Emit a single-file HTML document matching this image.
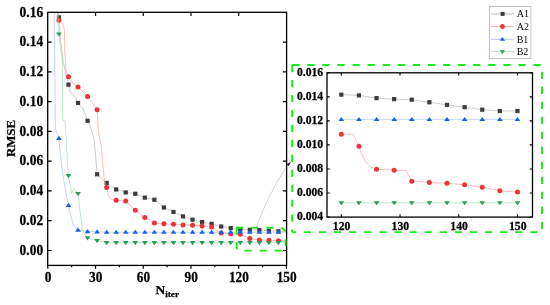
<!DOCTYPE html>
<html><head><meta charset="utf-8"><title>RMSE vs Niter</title>
<style>html,body{margin:0;padding:0;background:#fff;}body{width:550px;height:305px;overflow:hidden;}svg{display:block;}</style></head>
<body>
<svg width="550" height="305" viewBox="0 0 550 305">
<rect width="550" height="305" fill="#fff"/>
<defs><clipPath id="mc"><rect x="47.7" y="12.3" width="238.9" height="253.1"/></clipPath><clipPath id="ic"><rect x="327" y="72.8" width="205.5" height="144.3"/></clipPath></defs>
<g clip-path="url(#mc)">
<polyline points="58,12.3 58.93,17.32 60.5,40 63.3,62 66,75 68.48,84.63 70.3,92 75.6,97.5 78.02,102.94 82.5,108 85.5,115 87.57,120.81 91.6,130 94.2,140.5 96.4,165 97.11,174.26 106.66,183.05 116.2,189.45 125.74,192.43 135.29,193.77 144.83,197.64 154.38,199.73 163.92,207.47 173.47,211.93 183.01,216.4 192.55,219.68 202.1,222.06 211.64,223.85 221.19,226.53 230.73,228.16 240.27,229.65 249.82,229.8 259.36,230.1 268.91,230.7 278.45,231.29 286.4,231.44" fill="none" stroke="#b4b4b4" stroke-width="0.7" stroke-linejoin="round" />
<rect x="56.83" y="15.22" width="4.2" height="4.2" fill="#3c3c3c"/>
<rect x="66.38" y="82.53" width="4.2" height="4.2" fill="#3c3c3c"/>
<rect x="75.92" y="100.84" width="4.2" height="4.2" fill="#3c3c3c"/>
<rect x="85.47" y="118.71" width="4.2" height="4.2" fill="#3c3c3c"/>
<rect x="95.01" y="172.16" width="4.2" height="4.2" fill="#3c3c3c"/>
<rect x="104.56" y="180.95" width="4.2" height="4.2" fill="#3c3c3c"/>
<rect x="114.1" y="187.35" width="4.2" height="4.2" fill="#3c3c3c"/>
<rect x="123.64" y="190.33" width="4.2" height="4.2" fill="#3c3c3c"/>
<rect x="133.19" y="191.67" width="4.2" height="4.2" fill="#3c3c3c"/>
<rect x="142.73" y="195.54" width="4.2" height="4.2" fill="#3c3c3c"/>
<rect x="152.28" y="197.63" width="4.2" height="4.2" fill="#3c3c3c"/>
<rect x="161.82" y="205.37" width="4.2" height="4.2" fill="#3c3c3c"/>
<rect x="171.37" y="209.83" width="4.2" height="4.2" fill="#3c3c3c"/>
<rect x="180.91" y="214.3" width="4.2" height="4.2" fill="#3c3c3c"/>
<rect x="190.45" y="217.58" width="4.2" height="4.2" fill="#3c3c3c"/>
<rect x="200" y="219.96" width="4.2" height="4.2" fill="#3c3c3c"/>
<rect x="209.54" y="221.75" width="4.2" height="4.2" fill="#3c3c3c"/>
<rect x="219.09" y="224.43" width="4.2" height="4.2" fill="#3c3c3c"/>
<rect x="228.63" y="226.06" width="4.2" height="4.2" fill="#3c3c3c"/>
<rect x="238.17" y="227.55" width="4.2" height="4.2" fill="#3c3c3c"/>
<rect x="247.72" y="227.7" width="4.2" height="4.2" fill="#3c3c3c"/>
<rect x="257.26" y="228" width="4.2" height="4.2" fill="#3c3c3c"/>
<rect x="266.81" y="228.6" width="4.2" height="4.2" fill="#3c3c3c"/>
<rect x="276.35" y="229.19" width="4.2" height="4.2" fill="#3c3c3c"/>
<polyline points="57.2,12.3 58.93,20.15 62.5,23.5 64.4,30 64.8,50 65.6,66 66.6,73 68.48,76.73 72,82.5 78.02,87.01 87.57,96.54 97.11,109.64 98.9,135 101.4,147 103.3,170 104.6,181 106.66,187.52 108.4,195.8 111.5,199.3 116.2,200.32 125.74,200.92 135.29,210.15 144.83,217.44 154.38,222.95 163.92,223.7 173.47,224.29 183.01,224.89 192.55,225.19 202.1,225.93 211.64,227.12 221.19,232.93 230.73,233.82 240.27,234.27 249.82,238.59 259.36,240.08 268.91,240.37 278.45,240.82 286.4,241.42" fill="none" stroke="#f6a2a2" stroke-width="0.7" stroke-linejoin="round" />
<circle cx="58.93" cy="20.15" r="2.5" fill="#ee3338"/>
<circle cx="68.48" cy="76.73" r="2.5" fill="#ee3338"/>
<circle cx="78.02" cy="87.01" r="2.5" fill="#ee3338"/>
<circle cx="87.57" cy="96.54" r="2.5" fill="#ee3338"/>
<circle cx="97.11" cy="109.64" r="2.5" fill="#ee3338"/>
<circle cx="106.66" cy="187.52" r="2.5" fill="#ee3338"/>
<circle cx="116.2" cy="200.32" r="2.5" fill="#ee3338"/>
<circle cx="125.74" cy="200.92" r="2.5" fill="#ee3338"/>
<circle cx="135.29" cy="210.15" r="2.5" fill="#ee3338"/>
<circle cx="144.83" cy="217.44" r="2.5" fill="#ee3338"/>
<circle cx="154.38" cy="222.95" r="2.5" fill="#ee3338"/>
<circle cx="163.92" cy="223.7" r="2.5" fill="#ee3338"/>
<circle cx="173.47" cy="224.29" r="2.5" fill="#ee3338"/>
<circle cx="183.01" cy="224.89" r="2.5" fill="#ee3338"/>
<circle cx="192.55" cy="225.19" r="2.5" fill="#ee3338"/>
<circle cx="202.1" cy="225.93" r="2.5" fill="#ee3338"/>
<circle cx="211.64" cy="227.12" r="2.5" fill="#ee3338"/>
<circle cx="221.19" cy="232.93" r="2.5" fill="#ee3338"/>
<circle cx="230.73" cy="233.82" r="2.5" fill="#ee3338"/>
<circle cx="240.27" cy="234.27" r="2.5" fill="#ee3338"/>
<circle cx="249.82" cy="238.59" r="2.5" fill="#ee3338"/>
<circle cx="259.36" cy="240.08" r="2.5" fill="#ee3338"/>
<circle cx="268.91" cy="240.37" r="2.5" fill="#ee3338"/>
<circle cx="278.45" cy="240.82" r="2.5" fill="#ee3338"/>
<polyline points="54.2,12.3 55.4,129.3 58.93,138.38 59.6,146 61.5,165 64.5,185 68.48,205.38 70.2,214 72.6,222.5 75,227.8 78.02,229.95 87.57,231.44 97.11,231.89 106.66,232.19 116.2,232.19 125.74,232.19 135.29,232.19 144.83,232.19 154.38,232.19 163.92,232.19 173.47,232.19 183.01,232.19 192.55,232.19 202.1,232.19 211.64,232.19 221.19,232.19 230.73,232.19 240.27,232.19 249.82,232.19 259.36,232.19 268.91,232.19 278.45,232.19 286.4,232.19" fill="none" stroke="#a8c6f4" stroke-width="0.7" stroke-linejoin="round" />
<polygon points="58.93,135.85 56.07,140.06 61.8,140.06" fill="#1a5fe0"/>
<polygon points="68.48,202.86 65.62,207.07 71.34,207.07" fill="#1a5fe0"/>
<polygon points="78.02,227.42 75.16,231.64 80.89,231.64" fill="#1a5fe0"/>
<polygon points="87.57,228.91 84.71,233.13 90.43,233.13" fill="#1a5fe0"/>
<polygon points="97.11,229.36 94.25,233.57 99.97,233.57" fill="#1a5fe0"/>
<polygon points="106.66,229.66 103.79,233.87 109.52,233.87" fill="#1a5fe0"/>
<polygon points="116.2,229.66 113.34,233.87 119.06,233.87" fill="#1a5fe0"/>
<polygon points="125.74,229.66 122.88,233.87 128.61,233.87" fill="#1a5fe0"/>
<polygon points="135.29,229.66 132.43,233.87 138.15,233.87" fill="#1a5fe0"/>
<polygon points="144.83,229.66 141.97,233.87 147.69,233.87" fill="#1a5fe0"/>
<polygon points="154.38,229.66 151.51,233.87 157.24,233.87" fill="#1a5fe0"/>
<polygon points="163.92,229.66 161.06,233.87 166.78,233.87" fill="#1a5fe0"/>
<polygon points="173.47,229.66 170.6,233.87 176.33,233.87" fill="#1a5fe0"/>
<polygon points="183.01,229.66 180.15,233.87 185.87,233.87" fill="#1a5fe0"/>
<polygon points="192.55,229.66 189.69,233.87 195.42,233.87" fill="#1a5fe0"/>
<polygon points="202.1,229.66 199.24,233.87 204.96,233.87" fill="#1a5fe0"/>
<polygon points="211.64,229.66 208.78,233.87 214.5,233.87" fill="#1a5fe0"/>
<polygon points="221.19,229.66 218.32,233.87 224.05,233.87" fill="#1a5fe0"/>
<polygon points="230.73,229.66 227.87,233.87 233.59,233.87" fill="#1a5fe0"/>
<polygon points="240.27,229.66 237.41,233.87 243.14,233.87" fill="#1a5fe0"/>
<polygon points="249.82,229.66 246.96,233.87 252.68,233.87" fill="#1a5fe0"/>
<polygon points="259.36,229.66 256.5,233.87 262.23,233.87" fill="#1a5fe0"/>
<polygon points="268.91,229.66 266.05,233.87 271.77,233.87" fill="#1a5fe0"/>
<polygon points="278.45,229.66 275.59,233.87 281.31,233.87" fill="#1a5fe0"/>
<polyline points="57.6,12.3 58.93,34.15 60.3,45 62.3,60 62.8,120 65.1,121.5 66.2,140 67.8,168 68.48,175.75 71.6,193.4 73.3,189.8 75.2,189.9 78.02,193.77 80.5,215 82.6,231 87.57,237.99 97.11,240.67 106.66,242.61 116.2,242.61 125.74,242.61 135.29,242.61 144.83,242.61 154.38,242.61 163.92,242.61 173.47,242.61 183.01,242.61 192.55,242.61 202.1,242.61 211.64,242.61 221.19,242.61 230.73,242.61 240.27,242.61 249.82,242.61 259.36,242.61 268.91,242.61 278.45,242.61 286.4,242.61" fill="none" stroke="#a2dcb8" stroke-width="0.7" stroke-linejoin="round" />
<polygon points="58.93,36.68 56.07,32.46 61.8,32.46" fill="#2e9a57"/>
<polygon points="68.48,178.28 65.62,174.07 71.34,174.07" fill="#2e9a57"/>
<polygon points="78.02,196.3 75.16,192.08 80.89,192.08" fill="#2e9a57"/>
<polygon points="87.57,240.52 84.71,236.31 90.43,236.31" fill="#2e9a57"/>
<polygon points="97.11,243.2 94.25,238.99 99.97,238.99" fill="#2e9a57"/>
<polygon points="106.66,245.14 103.79,240.92 109.52,240.92" fill="#2e9a57"/>
<polygon points="116.2,245.14 113.34,240.92 119.06,240.92" fill="#2e9a57"/>
<polygon points="125.74,245.14 122.88,240.92 128.61,240.92" fill="#2e9a57"/>
<polygon points="135.29,245.14 132.43,240.92 138.15,240.92" fill="#2e9a57"/>
<polygon points="144.83,245.14 141.97,240.92 147.69,240.92" fill="#2e9a57"/>
<polygon points="154.38,245.14 151.51,240.92 157.24,240.92" fill="#2e9a57"/>
<polygon points="163.92,245.14 161.06,240.92 166.78,240.92" fill="#2e9a57"/>
<polygon points="173.47,245.14 170.6,240.92 176.33,240.92" fill="#2e9a57"/>
<polygon points="183.01,245.14 180.15,240.92 185.87,240.92" fill="#2e9a57"/>
<polygon points="192.55,245.14 189.69,240.92 195.42,240.92" fill="#2e9a57"/>
<polygon points="202.1,245.14 199.24,240.92 204.96,240.92" fill="#2e9a57"/>
<polygon points="211.64,245.14 208.78,240.92 214.5,240.92" fill="#2e9a57"/>
<polygon points="221.19,245.14 218.32,240.92 224.05,240.92" fill="#2e9a57"/>
<polygon points="230.73,245.14 227.87,240.92 233.59,240.92" fill="#2e9a57"/>
<polygon points="240.27,245.14 237.41,240.92 243.14,240.92" fill="#2e9a57"/>
<polygon points="249.82,245.14 246.96,240.92 252.68,240.92" fill="#2e9a57"/>
<polygon points="259.36,245.14 256.5,240.92 262.23,240.92" fill="#2e9a57"/>
<polygon points="268.91,245.14 266.05,240.92 271.77,240.92" fill="#2e9a57"/>
<polygon points="278.45,245.14 275.59,240.92 281.31,240.92" fill="#2e9a57"/>
</g>
<rect x="47.7" y="12.3" width="238.9" height="253.1" fill="none" stroke="#000" stroke-width="1.3"/>
<path d="M47.8 265.4V268.7 M95.52 265.4V268.7 M95.52 12.3V16.1 M143.24 265.4V268.7 M143.24 12.3V16.1 M190.96 265.4V268.7 M190.96 12.3V16.1 M238.68 265.4V268.7 M238.68 12.3V16.1 M286.4 265.4V268.7 M71.66 265.4V267.2 M119.38 265.4V267.2 M167.1 265.4V267.2 M214.82 265.4V267.2 M262.54 265.4V267.2 M47.7 250.5H51.7 M286.6 250.5H282.8 M47.7 220.72H51.7 M286.6 220.72H282.8 M47.7 190.94H51.7 M286.6 190.94H282.8 M47.7 161.16H51.7 M286.6 161.16H282.8 M47.7 131.38H51.7 M286.6 131.38H282.8 M47.7 101.6H51.7 M286.6 101.6H282.8 M47.7 71.82H51.7 M286.6 71.82H282.8 M47.7 42.04H51.7 M286.6 42.04H282.8" stroke="#000" stroke-width="1.2" fill="none"/>
<text transform="translate(43.1 254.8) scale(1.01 1.05)" font-family="Liberation Serif, serif" font-weight="bold" stroke="#000" stroke-width="0.25" font-size="13.3" text-anchor="end">0.00</text>
<text transform="translate(43.1 225.02) scale(1.01 1.05)" font-family="Liberation Serif, serif" font-weight="bold" stroke="#000" stroke-width="0.25" font-size="13.3" text-anchor="end">0.02</text>
<text transform="translate(43.1 195.24) scale(1.01 1.05)" font-family="Liberation Serif, serif" font-weight="bold" stroke="#000" stroke-width="0.25" font-size="13.3" text-anchor="end">0.04</text>
<text transform="translate(43.1 165.46) scale(1.01 1.05)" font-family="Liberation Serif, serif" font-weight="bold" stroke="#000" stroke-width="0.25" font-size="13.3" text-anchor="end">0.06</text>
<text transform="translate(43.1 135.68) scale(1.01 1.05)" font-family="Liberation Serif, serif" font-weight="bold" stroke="#000" stroke-width="0.25" font-size="13.3" text-anchor="end">0.08</text>
<text transform="translate(43.1 105.9) scale(1.01 1.05)" font-family="Liberation Serif, serif" font-weight="bold" stroke="#000" stroke-width="0.25" font-size="13.3" text-anchor="end">0.10</text>
<text transform="translate(43.1 76.12) scale(1.01 1.05)" font-family="Liberation Serif, serif" font-weight="bold" stroke="#000" stroke-width="0.25" font-size="13.3" text-anchor="end">0.12</text>
<text transform="translate(43.1 46.34) scale(1.01 1.05)" font-family="Liberation Serif, serif" font-weight="bold" stroke="#000" stroke-width="0.25" font-size="13.3" text-anchor="end">0.14</text>
<text transform="translate(43.1 16.56) scale(1.01 1.05)" font-family="Liberation Serif, serif" font-weight="bold" stroke="#000" stroke-width="0.25" font-size="13.3" text-anchor="end">0.16</text>
<text transform="translate(48 282.3) scale(1 1.035)" font-family="Liberation Serif, serif" font-weight="bold" stroke="#000" stroke-width="0.25" font-size="13.3" text-anchor="middle">0</text>
<text transform="translate(95.72 282.3) scale(1 1.035)" font-family="Liberation Serif, serif" font-weight="bold" stroke="#000" stroke-width="0.25" font-size="13.3" text-anchor="middle">30</text>
<text transform="translate(143.44 282.3) scale(1 1.035)" font-family="Liberation Serif, serif" font-weight="bold" stroke="#000" stroke-width="0.25" font-size="13.3" text-anchor="middle">60</text>
<text transform="translate(191.16 282.3) scale(1 1.035)" font-family="Liberation Serif, serif" font-weight="bold" stroke="#000" stroke-width="0.25" font-size="13.3" text-anchor="middle">90</text>
<text transform="translate(238.88 282.3) scale(1 1.035)" font-family="Liberation Serif, serif" font-weight="bold" stroke="#000" stroke-width="0.25" font-size="13.3" text-anchor="middle">120</text>
<text transform="translate(286.6 282.3) scale(1 1.035)" font-family="Liberation Serif, serif" font-weight="bold" stroke="#000" stroke-width="0.25" font-size="13.3" text-anchor="middle">150</text>
<text transform="translate(15.0 138.5) rotate(-90) scale(1 1.04)" font-family="Liberation Serif, serif" font-weight="bold" stroke="#000" stroke-width="0.25" font-size="12.9" text-anchor="middle">RMSE</text>
<text transform="translate(155.5 294.4)" font-family="Liberation Serif, serif" font-weight="bold" stroke="#000" stroke-width="0.25" font-size="13.4">N</text>
<text x="165.2" y="297.2" font-family="Liberation Serif, serif" font-weight="bold" stroke="#000" stroke-width="0.25" font-size="9.2">iter</text>
<path d="M236.7 234.6 V227.7 H243.3 M251.3 227.7 H258 M266.4 227.7 H273.4 M281.2 227.6 L285.6 231.3 M236.7 242.3 V249.3 M285.6 239.4 V246.3 M244.4 250.6 H251.8 M259.7 250.6 H266.8 M274.5 250.6 H282.3" fill="none" stroke="#14ee14" stroke-width="1.9"/>
<path d="M256.5 227 Q270 190 288.3 164.6" fill="none" stroke="#777" stroke-width="0.7" stroke-dasharray="1 1.2"/>
<path d="M290.6 162.3 L286.9 164.3 L287.8 164.9 L288.4 166.0 Z" fill="#111" stroke="#111" stroke-width="0.4" stroke-linejoin="round"/>
<path d="M292.2 65 H542" fill="none" stroke="#14ee14" stroke-width="1.9" stroke-dasharray="7.2 7.88" stroke-dashoffset="0"/>
<path d="M292.2 65 V232.1" fill="none" stroke="#14ee14" stroke-width="1.9" stroke-dasharray="7.2 7.76" stroke-dashoffset="0"/>
<path d="M292.2 232.1 H542" fill="none" stroke="#14ee14" stroke-width="1.9" stroke-dasharray="7.2 7.9" stroke-dashoffset="3.5"/>
<path d="M542 232.1 V65" fill="none" stroke="#14ee14" stroke-width="1.9" stroke-dasharray="7.2 7.82" stroke-dashoffset="12.0"/>
<g clip-path="url(#ic)">
<polyline points="341.3,94.67 358.92,95.39 376.54,98.15 394.16,99.11 411.78,99.71 429.39,102.24 447.01,104.88 464.63,107.16 482.25,109.69 499.87,111.01 517.49,111.01" fill="none" stroke="#b4b4b4" stroke-width="0.7" stroke-linejoin="round" />
<polyline points="341.3,119.42 358.92,119.42 376.54,119.42 394.16,119.42 411.78,119.42 429.39,119.42 447.01,119.42 464.63,119.42 482.25,119.42 499.87,119.42 517.49,119.42" fill="none" stroke="#a8c6f4" stroke-width="0.7" stroke-linejoin="round" />
<polyline points="341.3,202.82 358.92,202.82 376.54,202.82 394.16,202.82 411.78,202.82 429.39,202.82 447.01,202.82 464.63,202.82 482.25,202.82 499.87,202.82 517.49,202.82" fill="none" stroke="#a2dcb8" stroke-width="0.7" stroke-linejoin="round" />
<polyline points="340.9,134.2 353,134.2 358.8,146.2 362,155 366,162 370.5,167 376.3,169.1 393.9,170.2 406,170.5 411.8,181.1 429.39,182.51 447.01,183.35 464.63,184.79 482.25,187.2 499.87,190.8 517.49,192.12" fill="none" stroke="#f6a2a2" stroke-width="0.7" stroke-linejoin="round" />
<rect x="339.2" y="92.57" width="4.2" height="4.2" fill="#3c3c3c"/>
<rect x="356.82" y="93.29" width="4.2" height="4.2" fill="#3c3c3c"/>
<rect x="374.44" y="96.05" width="4.2" height="4.2" fill="#3c3c3c"/>
<rect x="392.06" y="97.01" width="4.2" height="4.2" fill="#3c3c3c"/>
<rect x="409.68" y="97.61" width="4.2" height="4.2" fill="#3c3c3c"/>
<rect x="427.29" y="100.14" width="4.2" height="4.2" fill="#3c3c3c"/>
<rect x="444.91" y="102.78" width="4.2" height="4.2" fill="#3c3c3c"/>
<rect x="462.53" y="105.06" width="4.2" height="4.2" fill="#3c3c3c"/>
<rect x="480.15" y="107.59" width="4.2" height="4.2" fill="#3c3c3c"/>
<rect x="497.77" y="108.91" width="4.2" height="4.2" fill="#3c3c3c"/>
<rect x="515.39" y="108.91" width="4.2" height="4.2" fill="#3c3c3c"/>
<circle cx="341.3" cy="134.32" r="2.5" fill="#ee3338"/>
<circle cx="358.92" cy="146.34" r="2.5" fill="#ee3338"/>
<circle cx="376.54" cy="169.17" r="2.5" fill="#ee3338"/>
<circle cx="394.16" cy="170.37" r="2.5" fill="#ee3338"/>
<circle cx="411.78" cy="181.19" r="2.5" fill="#ee3338"/>
<circle cx="429.39" cy="182.51" r="2.5" fill="#ee3338"/>
<circle cx="447.01" cy="183.35" r="2.5" fill="#ee3338"/>
<circle cx="464.63" cy="184.79" r="2.5" fill="#ee3338"/>
<circle cx="482.25" cy="187.2" r="2.5" fill="#ee3338"/>
<circle cx="499.87" cy="190.8" r="2.5" fill="#ee3338"/>
<circle cx="517.49" cy="192.12" r="2.5" fill="#ee3338"/>
<polygon points="341.3,116.89 338.44,121.11 344.16,121.11" fill="#1a5fe0"/>
<polygon points="358.92,116.89 356.06,121.11 361.78,121.11" fill="#1a5fe0"/>
<polygon points="376.54,116.89 373.68,121.11 379.4,121.11" fill="#1a5fe0"/>
<polygon points="394.16,116.89 391.3,121.11 397.02,121.11" fill="#1a5fe0"/>
<polygon points="411.78,116.89 408.91,121.11 414.64,121.11" fill="#1a5fe0"/>
<polygon points="429.39,116.89 426.53,121.11 432.26,121.11" fill="#1a5fe0"/>
<polygon points="447.01,116.89 444.15,121.11 449.88,121.11" fill="#1a5fe0"/>
<polygon points="464.63,116.89 461.77,121.11 467.5,121.11" fill="#1a5fe0"/>
<polygon points="482.25,116.89 479.39,121.11 485.11,121.11" fill="#1a5fe0"/>
<polygon points="499.87,116.89 497.01,121.11 502.73,121.11" fill="#1a5fe0"/>
<polygon points="517.49,116.89 514.63,121.11 520.35,121.11" fill="#1a5fe0"/>
<polygon points="341.3,205.35 338.44,201.14 344.16,201.14" fill="#2e9a57"/>
<polygon points="358.92,205.35 356.06,201.14 361.78,201.14" fill="#2e9a57"/>
<polygon points="376.54,205.35 373.68,201.14 379.4,201.14" fill="#2e9a57"/>
<polygon points="394.16,205.35 391.3,201.14 397.02,201.14" fill="#2e9a57"/>
<polygon points="411.78,205.35 408.91,201.14 414.64,201.14" fill="#2e9a57"/>
<polygon points="429.39,205.35 426.53,201.14 432.26,201.14" fill="#2e9a57"/>
<polygon points="447.01,205.35 444.15,201.14 449.88,201.14" fill="#2e9a57"/>
<polygon points="464.63,205.35 461.77,201.14 467.5,201.14" fill="#2e9a57"/>
<polygon points="482.25,205.35 479.39,201.14 485.11,201.14" fill="#2e9a57"/>
<polygon points="499.87,205.35 497.01,201.14 502.73,201.14" fill="#2e9a57"/>
<polygon points="517.49,205.35 514.63,201.14 520.35,201.14" fill="#2e9a57"/>
</g>
<rect x="327" y="72.8" width="205.5" height="144.3" fill="none" stroke="#000" stroke-width="1.3"/>
<path d="M341.3 217.1V214.3 M341.3 72.8V75.6 M400.03 217.1V214.3 M400.03 72.8V75.6 M458.76 217.1V214.3 M458.76 72.8V75.6 M517.49 217.1V214.3 M517.49 72.8V75.6 M327 217H329.8 M532.5 217H529.7 M327 192.97H329.8 M532.5 192.97H529.7 M327 168.93H329.8 M532.5 168.93H529.7 M327 144.9H329.8 M532.5 144.9H529.7 M327 120.86H329.8 M532.5 120.86H529.7 M327 96.83H329.8 M532.5 96.83H529.7 M327 72.8H329.8 M532.5 72.8H529.7" stroke="#000" stroke-width="1.1" fill="none"/>
<text transform="translate(323.2 220.2) scale(1 1.03)" font-family="Liberation Serif, serif" font-weight="bold" stroke="#000" stroke-width="0.25" font-size="11.7" text-anchor="end">0.004</text>
<text transform="translate(323.2 196.17) scale(1 1.03)" font-family="Liberation Serif, serif" font-weight="bold" stroke="#000" stroke-width="0.25" font-size="11.7" text-anchor="end">0.006</text>
<text transform="translate(323.2 172.13) scale(1 1.03)" font-family="Liberation Serif, serif" font-weight="bold" stroke="#000" stroke-width="0.25" font-size="11.7" text-anchor="end">0.008</text>
<text transform="translate(323.2 148.1) scale(1 1.03)" font-family="Liberation Serif, serif" font-weight="bold" stroke="#000" stroke-width="0.25" font-size="11.7" text-anchor="end">0.010</text>
<text transform="translate(323.2 124.06) scale(1 1.03)" font-family="Liberation Serif, serif" font-weight="bold" stroke="#000" stroke-width="0.25" font-size="11.7" text-anchor="end">0.012</text>
<text transform="translate(323.2 100.03) scale(1 1.03)" font-family="Liberation Serif, serif" font-weight="bold" stroke="#000" stroke-width="0.25" font-size="11.7" text-anchor="end">0.014</text>
<text transform="translate(323.2 76) scale(1 1.03)" font-family="Liberation Serif, serif" font-weight="bold" stroke="#000" stroke-width="0.25" font-size="11.7" text-anchor="end">0.016</text>
<text transform="translate(341.6 229.8) scale(1 1.03)" font-family="Liberation Serif, serif" font-weight="bold" stroke="#000" stroke-width="0.25" font-size="11.7" text-anchor="middle">120</text>
<text transform="translate(400.33 229.8) scale(1 1.03)" font-family="Liberation Serif, serif" font-weight="bold" stroke="#000" stroke-width="0.25" font-size="11.7" text-anchor="middle">130</text>
<text transform="translate(459.06 229.8) scale(1 1.03)" font-family="Liberation Serif, serif" font-weight="bold" stroke="#000" stroke-width="0.25" font-size="11.7" text-anchor="middle">140</text>
<text transform="translate(517.79 229.8) scale(1 1.03)" font-family="Liberation Serif, serif" font-weight="bold" stroke="#000" stroke-width="0.25" font-size="11.7" text-anchor="middle">150</text>
<rect x="489.6" y="6.5" width="41.3" height="52.1" fill="#fff" stroke="#b4b4b4" stroke-width="0.8"/>
<path d="M491.0 13.9 H514.0" stroke="#d2d2d2" stroke-width="1.5"/>
<rect x="500.6" y="11.9" width="4" height="4" fill="#3c3c3c"/>
<text x="516.7" y="17.3" font-family="Liberation Serif, serif" font-size="10">A1</text>
<path d="M491.0 26.5 H514.0" stroke="#f7b0b0" stroke-width="1.0"/>
<circle cx="502.4" cy="26.5" r="2.4" fill="#ee3338"/>
<text x="516.7" y="29.9" font-family="Liberation Serif, serif" font-size="10">A2</text>
<path d="M491.0 39.3 H514.0" stroke="#b0c9f4" stroke-width="1.0"/>
<polygon points="502.4,36.96 499.75,40.86 505.05,40.86" fill="#1a5fe0"/>
<text x="516.7" y="42.7" font-family="Liberation Serif, serif" font-size="10">B1</text>
<path d="M491.0 51.7 H514.0" stroke="#b0e0c2" stroke-width="1.0"/>
<polygon points="502.4,54.04 499.75,50.14 505.05,50.14" fill="#2e9a57"/>
<text x="516.7" y="55.1" font-family="Liberation Serif, serif" font-size="10">B2</text>
</svg>
</body></html>
